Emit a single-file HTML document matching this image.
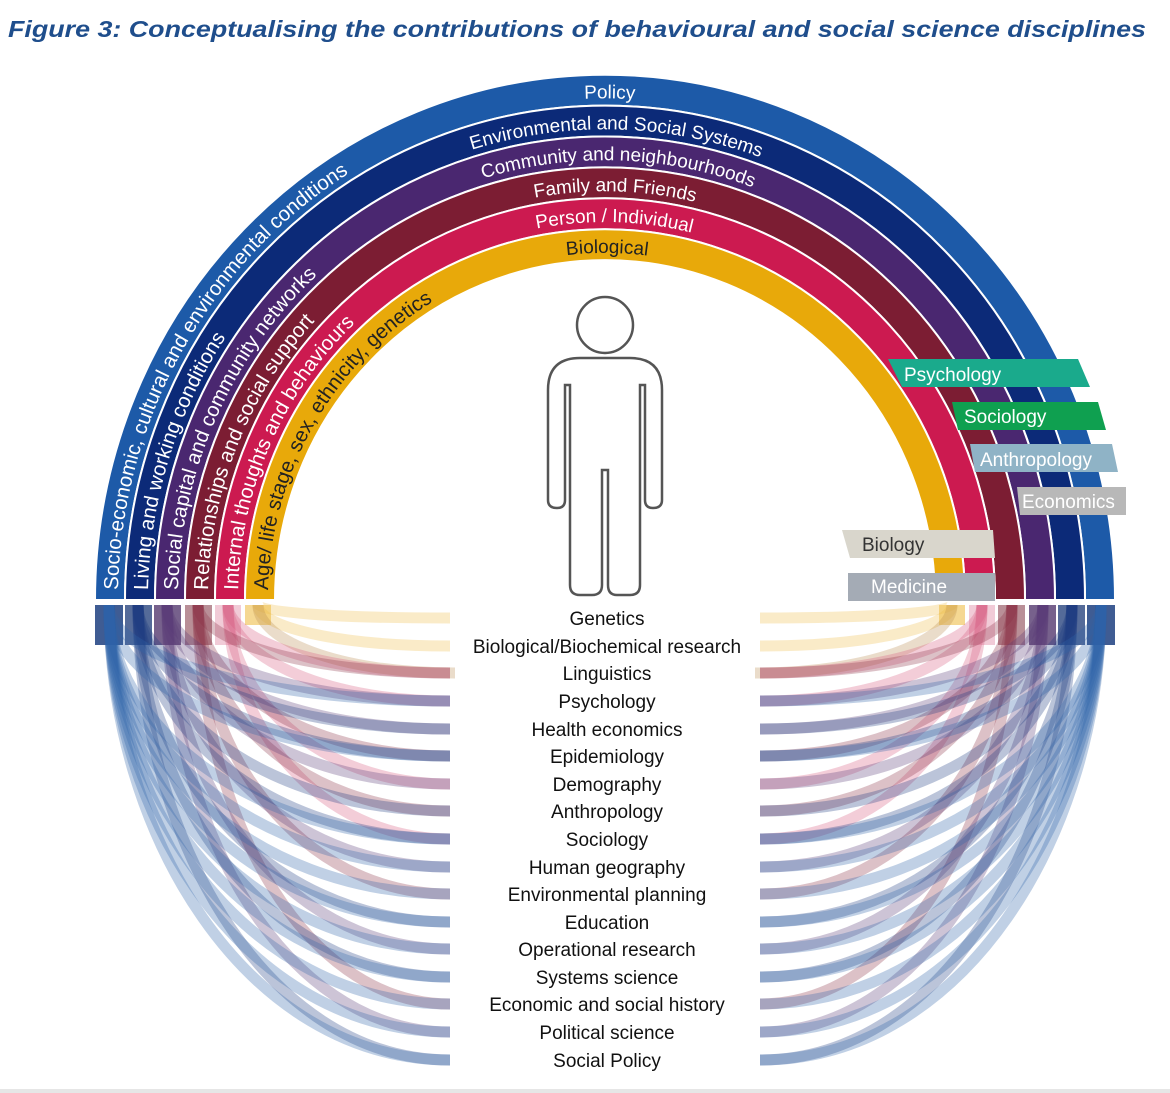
<!DOCTYPE html>
<html><head><meta charset="utf-8"><style>
html,body{margin:0;padding:0;background:#fff;}
svg{display:block;font-family:"Liberation Sans",Arial,sans-serif;}
</style></head><body>
<svg width="1170" height="1093" viewBox="0 0 1170 1093" xmlns="http://www.w3.org/2000/svg">
<defs>
<path id="t1" d="M 118,600 A 487,501.6 0 0 1 1092,600"/>
<path id="t2" d="M 148,600 A 457,470.7 0 0 1 1062,600"/>
<path id="t3" d="M 178,600 A 427,439.8 0 0 1 1032,600"/>
<path id="t4" d="M 208,600 A 397,408.9 0 0 1 1002,600"/>
<path id="t5" d="M 238,600 A 367,378 0 0 1 972,600"/>
<path id="t6" d="M 268,600 A 337,347.1 0 0 1 942,600"/>
<g id="flows" fill="none" stroke-width="11" stroke-opacity="0.3">
<g stroke="#efbe4a">
<path d="M258 605 C258 612 335 618 450 618"/>
<path d="M258 605 C258 626 335 646 450 646"/>
<path d="M258 605 C258 639 335 673 455 673" stroke="#b88a50"/>
</g>
<g stroke="#d8587e">
<path d="M228 605 C228 653 317 701 450 701"/>
<path d="M228 605 C228 695 317 784 450 784"/>
<path d="M228 605 C228 722 317 839 450 839"/>
<path d="M228 605 C228 639 317 673 450 673"/>
</g>
<g stroke="#8a3346">
<path d="M198 605 C198 639 299 673 450 673"/>
<path d="M198 605 C198 680 299 756 450 756"/>
<path d="M198 605 C198 708 299 811 450 811"/>
<path d="M198 605 C198 750 299 894 450 894"/>
<path d="M198 605 C198 805 299 1004 450 1004"/>
</g>
<g stroke="#5a3a78">
<path d="M167 605 C167 653 280 701 450 701"/>
<path d="M167 605 C167 667 280 729 450 729"/>
<path d="M167 605 C167 695 280 784 450 784"/>
<path d="M167 605 C167 736 280 867 450 867"/>
<path d="M167 605 C167 777 280 949 450 949"/>
<path d="M167 605 C167 818 280 1032 450 1032"/>
</g>
<g stroke="#1f3a80">
<path d="M138 605 C138 667 263 729 450 729"/>
<path d="M138 605 C138 680 263 756 450 756"/>
<path d="M138 605 C138 708 263 811 450 811"/>
<path d="M138 605 C138 722 263 839 450 839"/>
<path d="M138 605 C138 763 263 922 450 922"/>
<path d="M138 605 C138 791 263 977 450 977"/>
<path d="M138 605 C138 832 263 1060 450 1060"/>
</g>
<g stroke="#2f62a8">
<path d="M109 605 C109 653 245 701 450 701"/>
<path d="M109 605 C109 680 245 756 450 756"/>
<path d="M109 605 C109 722 245 839 450 839"/>
<path d="M109 605 C109 736 245 867 450 867"/>
<path d="M109 605 C109 750 245 894 450 894"/>
<path d="M109 605 C109 763 245 922 450 922"/>
<path d="M109 605 C109 777 245 949 450 949"/>
<path d="M109 605 C109 791 245 977 450 977"/>
<path d="M109 605 C109 805 245 1004 450 1004"/>
<path d="M109 605 C109 818 245 1032 450 1032"/>
<path d="M109 605 C109 832 245 1060 450 1060"/>
</g>
</g>
<g id="stubs">
<rect x="95" y="605" width="28" height="40" fill="#1d3f80" opacity="0.85"/>
<rect x="125" y="605" width="27" height="40" fill="#2a4680" opacity="0.8"/>
<rect x="154" y="605" width="27" height="40" fill="#4a2c66" opacity="0.75"/>
<rect x="185" y="605" width="27" height="40" fill="#8a4452" opacity="0.6"/>
<rect x="215" y="605" width="26" height="40" fill="#e8a8bc" opacity="0.6"/>
<rect x="245" y="605" width="26" height="20" fill="#efbe4a" opacity="0.6"/>
</g>
</defs>

<text x="8" y="37" font-size="23" font-weight="bold" font-style="italic" fill="#1f4e8c" textLength="1138" lengthAdjust="spacingAndGlyphs">Figure 3: Conceptualising the contributions of behavioural and social science disciplines</text>

<g stroke="#fff" stroke-width="2">
<path fill="#1d5aa8" d="M95,600 A510,525.3 0 0 1 1115,600 L1085,600 A480,494.4 0 0 0 125,600 Z"/>
<path fill="#0c2a78" d="M125,600 A480,494.4 0 0 1 1085,600 L1055,600 A450,463.5 0 0 0 155,600 Z"/>
<path fill="#4a2770" d="M155,600 A450,463.5 0 0 1 1055,600 L1025,600 A420,432.6 0 0 0 185,600 Z"/>
<path fill="#7c1d33" d="M185,600 A420,432.6 0 0 1 1025,600 L995,600 A390,401.7 0 0 0 215,600 Z"/>
<path fill="#cc1a50" d="M215,600 A390,401.7 0 0 1 995,600 L965,600 A360,370.8 0 0 0 245,600 Z"/>
<path fill="#e8a90a" d="M245,600 A360,370.8 0 0 1 965,600 L935,600 A330,339.9 0 0 0 275,600 Z"/>
</g>

<g font-size="19">
<text fill="#fff"><textPath href="#t1" startOffset="50.3%" text-anchor="middle">Policy</textPath></text>
<text fill="#fff"><textPath href="#t2" startOffset="50.8%" text-anchor="middle">Environmental and Social Systems</textPath></text>
<text fill="#fff"><textPath href="#t3" startOffset="51%" text-anchor="middle">Community and neighbourhoods</textPath></text>
<text fill="#fff"><textPath href="#t4" startOffset="50.8%" text-anchor="middle">Family and Friends</textPath></text>
<text fill="#fff"><textPath href="#t5" startOffset="50.8%" text-anchor="middle">Person / Individual</textPath></text>
<text fill="#222"><textPath href="#t6" startOffset="50.2%" text-anchor="middle">Biological</textPath></text>
</g>
<g font-size="20.5">
<text fill="#fff"><textPath href="#t1" startOffset="10">Socio-economic, cultural and environmental conditions</textPath></text>
<text fill="#fff"><textPath href="#t2" startOffset="10">Living and working conditions</textPath></text>
<text fill="#fff"><textPath href="#t3" startOffset="10">Social capital and community networks</textPath></text>
<text fill="#fff"><textPath href="#t4" startOffset="10">Relationships and social support</textPath></text>
<text fill="#fff"><textPath href="#t5" startOffset="10">Internal thoughts and behaviours</textPath></text>
<text fill="#222"><textPath href="#t6" startOffset="10">Age/ life stage, sex, ethnicity, genetics</textPath></text>
</g>

<polygon points="888,359 1078,359 1090,387 902,387" fill="#1aaa8c"/>
<text x="904" y="381" font-size="19" fill="#fff">Psychology</text>
<polygon points="952,402 1098,402 1106,430 958,430" fill="#0fa050"/>
<text x="964" y="423" font-size="19" fill="#fff">Sociology</text>
<polygon points="970,444 1112,444 1118,472 975,472" fill="#8fb3c6"/>
<text x="980" y="466" font-size="19" fill="#fff">Anthropology</text>
<polygon points="1017,487 1126,487 1126,515 1020,515" fill="#b8b8b8"/>
<text x="1022" y="508" font-size="19" fill="#fff">Economics</text>
<polygon points="842,530 993,530 995,558 850,558" fill="#d9d6cc"/>
<text x="862" y="551" font-size="19" fill="#333">Biology</text>
<polygon points="848,573 995,573 995,601 848,601" fill="#a4abb5"/>
<text x="871" y="593" font-size="19" fill="#fff">Medicine</text>

<g fill="#fff" stroke="#555" stroke-width="2.5">
<circle cx="605" cy="325" r="28"/>
<path d="M580,358 L630,358 Q662,358 662,390 L662,500 Q662,508 653,508 Q645,508 645,500 L645,385 L640,385 L640,585 Q640,595 630,595 L617,595 Q608,595 608,585 L608,470 L602,470 L602,585 Q602,595 592,595 L580,595 Q570,595 570,585 L570,385 L565,385 L565,500 Q565,508 557,508 Q548,508 548,500 L548,390 Q548,358 580,358 Z"/>
</g>

<use href="#stubs"/>
<use href="#stubs" transform="translate(1210,0) scale(-1,1)"/>
<use href="#flows"/>
<use href="#flows" transform="translate(1210,0) scale(-1,1)"/>

<g font-size="19" fill="#111" text-anchor="middle">
<text x="607" y="625">Genetics</text>
<text x="607" y="653">Biological/Biochemical research</text>
<text x="607" y="680">Linguistics</text>
<text x="607" y="708">Psychology</text>
<text x="607" y="736">Health economics</text>
<text x="607" y="763">Epidemiology</text>
<text x="607" y="791">Demography</text>
<text x="607" y="818">Anthropology</text>
<text x="607" y="846">Sociology</text>
<text x="607" y="874">Human geography</text>
<text x="607" y="901">Environmental planning</text>
<text x="607" y="929">Education</text>
<text x="607" y="956">Operational research</text>
<text x="607" y="984">Systems science</text>
<text x="607" y="1011">Economic and social history</text>
<text x="607" y="1039">Political science</text>
<text x="607" y="1067">Social Policy</text>
</g>
<rect x="0" y="1089" width="1170" height="4" fill="#e6e6e6"/>
</svg>
</body></html>
